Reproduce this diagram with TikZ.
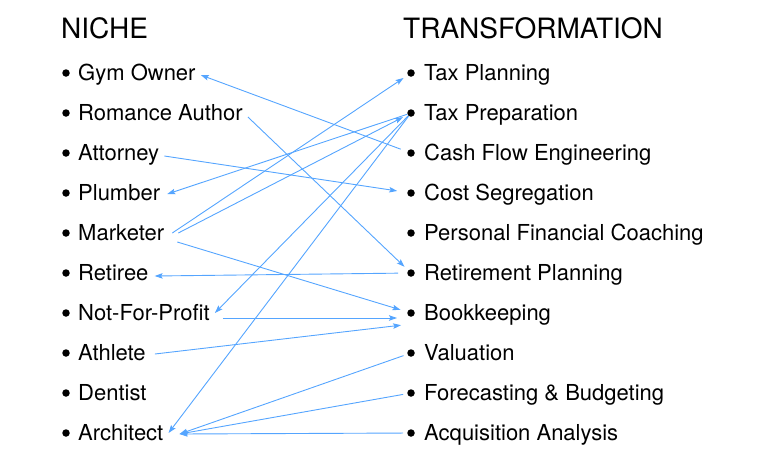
\documentclass[tikz,border=0pt]{standalone}
\usepackage{fontspec}
\setmainfont{TeX Gyre Heros}
\usetikzlibrary{arrows.meta}
\definecolor{linkblue}{RGB}{85,165,255}

\begin{document}
\begin{tikzpicture}[x=1pt,y=-1pt,
  head/.style={anchor=base west, inner sep=0pt, font=\fontsize{28}{32}\selectfont},
  item/.style={anchor=west, inner ysep=0pt, inner xsep=5pt, text height=18pt, text depth=3pt, font=\fontsize{22}{26}\selectfont},
  dot/.style={circle, fill=black, inner sep=0pt, minimum size=7.5pt},
  link/.style={draw=linkblue, line width=0.9pt, -{Stealth[length=8pt,width=5.5pt,inset=1.5pt]}}]
\useasboundingbox (0,0) rectangle (768,461);

\node (H-1) at (61,38) [head]{NICHE};
\node (H-2) at (403,38) [head]{TRANSFORMATION};

\node (NB-1) at (66,73) [dot]{};
\node (N-1) at (73,73) [item]{Gym Owner};
\node (NB-2) at (66,113) [dot]{};
\node (N-2) at (73,113) [item]{Romance Author};
\node (NB-3) at (66,153) [dot]{};
\node (N-3) at (73,153) [item]{Attorney};
\node (NB-4) at (66,193) [dot]{};
\node (N-4) at (73,193) [item]{Plumber};
\node (NB-5) at (66,233) [dot]{};
\node (N-5) at (73,233) [item]{Marketer};
\node (NB-6) at (66,273) [dot]{};
\node (N-6) at (73,273) [item]{Retiree};
\node (NB-7) at (66,313) [dot]{};
\node (N-7) at (73,313) [item]{Not-For-Profit};
\node (NB-8) at (66,353) [dot]{};
\node (N-8) at (73,353) [item]{Athlete};
\node (NB-9) at (66,393) [dot]{};
\node (N-9) at (73,393) [item]{Dentist};
\node (NB-10) at (66,433) [dot]{};
\node (N-10) at (73,433) [item]{Architect};

\node (T-1) at (411,73) [dot]{};
\node (TL-1) at (419,73) [item]{Tax Planning};
\node (T-2) at (411,113) [dot]{};
\node (TL-2) at (419,113) [item]{Tax Preparation};
\node (T-3) at (411,153) [dot]{};
\node (TL-3) at (419,153) [item]{Cash Flow Engineering};
\node (T-4) at (411,193) [dot]{};
\node (TL-4) at (419,193) [item]{Cost Segregation};
\node (T-5) at (411,233) [dot]{};
\node (TL-5) at (419,233) [item]{Personal Financial Coaching};
\node (T-6) at (411,273) [dot]{};
\node (TL-6) at (419,273) [item]{Retirement Planning};
\node (T-7) at (411,313) [dot]{};
\node (TL-7) at (419,313) [item]{Bookkeeping};
\node (T-8) at (411,353) [dot]{};
\node (TL-8) at (419,353) [item]{Valuation};
\node (T-9) at (411,393) [dot]{};
\node (TL-9) at (419,393) [item]{Forecasting \& Budgeting};
\node (T-10) at (411,433) [dot]{};
\node (TL-10) at (419,433) [item]{Acquisition Analysis};

\draw [link, shorten <=7pt] (T-3) -- ([shift={(0,2)}]N-1.east);
\draw [link, shorten >=5pt] ([shift={(0,4)}]N-2.east) -- (T-6);
\draw [link, shorten >=10pt] ([shift={(0,3)}]N-3.east) -- (T-4);
\draw [link] (T-2) -- ([shift={(2,1)}]N-4.east);

\draw [link, shorten >=5pt] ([shift={(3,0)}]N-5.east) -- (T-1);
\draw [link, shorten >=5pt] ([shift={(9,0)}]N-5.east) -- (T-2);
\draw [link, shorten >=7pt] ([shift={(8,9)}]N-5.east) -- (T-7);
\draw [link, shorten <=9pt] (T-6) -- ([shift={(1,3)}]N-6.east);

\draw [link] (T-2) -- (N-7.east);
\draw [link] (T-2) -- (N-10.east);
\draw [link, shorten >=14pt] ([shift={(8,5)}]N-7.east) -- ([shift={(0,5)}]T-7.center);
\draw [link, shorten >=10pt] ([shift={(4,1)}]N-8.east) -- ([shift={(0,11)}]T-7.center);

%  three into the architect
\draw [link, shorten <=4pt] (T-8) -- ([shift={(11,1)}]N-10.east);
\draw [link, shorten <=4pt] (T-9) -- ([shift={(11,1)}]N-10.east);
\draw [link, shorten <=4pt] (T-10) -- ([shift={(11,1)}]N-10.east);

\end{tikzpicture}
\end{document}
